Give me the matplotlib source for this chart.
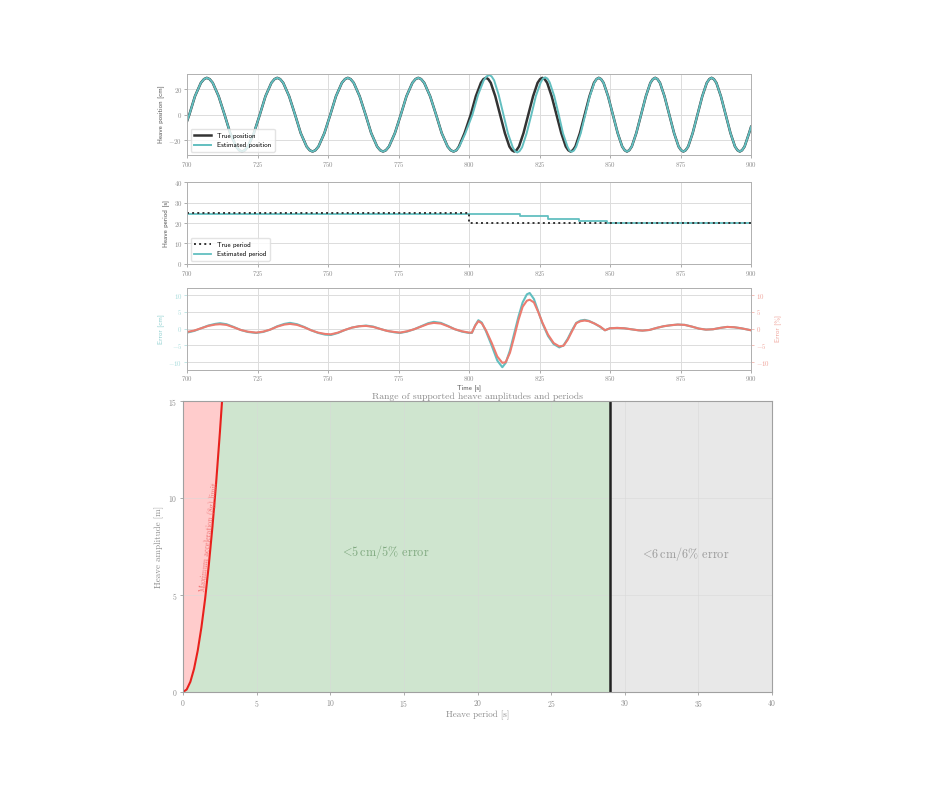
import matplotlib.pyplot as plt

plt.rcParams['font.family'] = ['cmr10', 'DejaVu Serif']
plt.rcParams['mathtext.fontset'] = 'cm'
plt.rcParams['axes.formatter.use_mathtext'] = True

SANS = ['cmss10', 'DejaVu Sans']
CYAN = '#62bfc0'
DARK = '#333333'
SALMON = '#ec7c70'
GREY = '#8c8c8c'

# --- heave position [cm], shared part before the period switch ---
pos_t_before = [700.0, 700.8, 702.8, 704.9, 706.0, 707.0, 708.0, 709.1, 711.2,
                713.3, 715.3, 717.4, 718.5, 719.5, 720.5, 721.6, 723.7,
                725.8, 727.8, 729.9, 731.0, 732.0, 733.0, 734.1, 736.2,
                738.3, 740.3, 742.4, 743.5, 744.5, 745.5, 746.6, 748.7,
                750.8, 752.8, 754.9, 756.0, 757.0, 758.0, 759.1, 761.2,
                763.3, 765.3, 767.4, 768.5, 769.5, 770.5, 771.6, 773.7,
                775.8, 777.8, 779.9, 781.0, 782.0, 783.0, 784.1, 786.2,
                788.3, 790.3, 792.4, 793.5, 794.5]
pos_before = [-5.0, 0, 14.4, 24.9, 27.8, 28.8, 27.8, 24.9, 14.4,
              0, -14.4, -24.9, -27.8, -28.8, -27.8, -24.9, -14.4,
              0, 14.4, 24.9, 27.8, 28.8, 27.8, 24.9, 14.4,
              0, -14.4, -24.9, -27.8, -28.8, -27.8, -24.9, -14.4,
              0, 14.4, 24.9, 27.8, 28.8, 27.8, 24.9, 14.4,
              0, -14.4, -24.9, -27.8, -28.8, -27.8, -24.9, -14.4,
              0, 14.4, 24.9, 27.8, 28.8, 27.8, 24.9, 14.4,
              0, -14.4, -24.9, -27.8, -28.8]

# period switch at 800 s: true vs estimated
true_t_switch = [795.5, 796.4, 798.4, 800.6, 802.4, 804.2, 805.1, 806.0, 806.8, 807.7, 809.3,
                 811.0, 812.7, 814.3, 815.2, 816.0, 816.8, 817.7, 819.3,
                 821.0, 822.7, 824.3, 825.2, 826.0, 826.8, 827.7, 829.3,
                 831.0, 832.7, 834.3, 835.2, 836.0, 836.8, 837.7, 839.3,
                 841.0, 842.7, 844.3, 845.2, 846.0]
true_switch = [-27.8, -24.9, -14.4, 0, 14.4, 24.9, 27.8, 28.8, 27.8, 24.9, 14.4,
               0, -14.4, -24.9, -27.8, -28.8, -27.8, -24.9, -14.4,
               0, 14.4, 24.9, 27.8, 28.8, 27.8, 24.9, 14.4,
               0, -14.4, -24.9, -27.8, -28.8, -27.8, -24.9, -14.4,
               0, 14.4, 24.9, 27.8, 28.8]
est_t_switch = [795.5, 796.5, 798.6, 801.2, 803.2, 805.2, 806.2, 807.2, 808.0, 808.9, 810.5,
                812.2, 813.8, 815.5, 816.3, 817.1, 817.9, 818.8, 820.4,
                822.1, 823.7, 825.4, 826.2, 827.0, 827.8, 828.6, 830.2,
                831.8, 833.3, 834.9, 835.6, 836.4, 837.2, 838.0, 839.6,
                841.2, 842.8, 844.4, 845.2, 846.0]
est_switch = [-27.8, -25.0, -15.0, 0, 15.5, 26.8, 29.9, 31.0, 29.9, 26.8, 15.5,
              0, -14.7, -25.5, -28.5, -29.5, -28.5, -25.5, -14.7,
              0, 14.6, 25.2, 28.2, 29.2, 28.2, 25.2, 14.6,
              0, -14.5, -25.0, -28.0, -29.0, -28.0, -25.0, -14.5,
              0, 14.4, 24.9, 27.8, 28.8]

# shared part after convergence
pos_t_after = [846.8, 847.7, 849.3,
               851.0, 852.7, 854.3, 855.2, 856.0, 856.8, 857.7, 859.3,
               861.0, 862.7, 864.3, 865.2, 866.0, 866.8, 867.7, 869.3,
               871.0, 872.7, 874.3, 875.2, 876.0, 876.8, 877.7, 879.3,
               881.0, 882.7, 884.3, 885.2, 886.0, 886.8, 887.7, 889.3,
               891.0, 892.7, 894.3, 895.2, 896.0, 896.8, 897.7, 899.3, 900.0]
pos_after = [27.8, 24.9, 14.4,
             0, -14.4, -24.9, -27.8, -28.8, -27.8, -24.9, -14.4,
             0, 14.4, 24.9, 27.8, 28.8, 27.8, 24.9, 14.4,
             0, -14.4, -24.9, -27.8, -28.8, -27.8, -24.9, -14.4,
             0, 14.4, 24.9, 27.8, 28.8, 27.8, 24.9, 14.4,
             0, -14.4, -24.9, -27.8, -28.8, -27.8, -24.9, -14.4, -9.5]

# --- heave period [s] ---
true_period_t = [700, 800, 900]
true_period = [25, 20, 20]
est_period_t = [700, 818, 828, 839, 849, 900]
est_period = [24.6, 23.5, 22.0, 20.8, 19.8, 19.8]

# --- error ---
err_t = [700, 702.5, 705, 707.5, 710, 711.7, 714, 716.5, 719, 721.5,
         724.5, 727, 729.5, 732, 734.5, 736.5, 739, 741.5, 744, 746.5,
         749, 751, 753.5, 756, 758.5, 761, 763.5, 766, 768.5, 771,
         773.5, 775.5, 778, 780.5, 783, 785.5, 787.5, 790, 792.5, 795,
         797.5, 800, 801, 802.2, 803.3, 804.5, 806, 808, 810, 811.8,
         813, 814.5, 816, 817.5, 819, 820.5, 821.5, 823, 824.5, 826,
         828, 830, 832, 833.5, 835, 836.5, 838, 839.5, 841, 842.5,
         844.5, 846.5, 848.2, 850, 852.5, 855, 857.5, 860, 861.5, 864,
         866.5, 869, 871.5, 874, 876.5, 879, 881.5, 884, 886.5, 889,
         891.5, 894, 896.5, 900]
err_cm = [-1.2, -0.7, 0.1, 0.9, 1.4, 1.6, 1.3, 0.5, -0.4, -1.0,
          -1.3, -1.0, -0.3, 0.7, 1.4, 1.7, 1.3, 0.5, -0.5, -1.3,
          -1.8, -1.9, -1.3, -0.4, 0.3, 0.7, 0.9, 0.6, -0.1, -0.7,
          -1.1, -1.3, -0.9, -0.2, 0.7, 1.6, 2.0, 1.7, 0.8, -0.2,
          -0.9, -1.3, -1.3, 1.0, 2.5, 1.8, -0.8, -5.0, -9.5, -11.5,
          -10.2, -6.5, -1.5, 3.5, 7.8, 10.2, 10.6, 8.8, 5.2, 1.6,
          -2.2, -4.6, -5.6, -5.0, -3.0, -0.5, 1.7, 2.4, 2.6, 2.3,
          1.5, 0.5, -0.5, 0.1, 0.2, 0.1, -0.2, -0.5, -0.6, -0.4,
          0.2, 0.7, 1.0, 1.2, 1.1, 0.6, 0.0, -0.3, -0.2, 0.2,
          0.5, 0.4, 0.1, -0.5]
err_pct = [-1.0, -0.6, 0.1, 0.8, 1.2, 1.3, 1.1, 0.4, -0.4, -0.9,
           -1.2, -0.9, -0.3, 0.6, 1.2, 1.4, 1.1, 0.4, -0.5, -1.2,
           -1.6, -1.7, -1.2, -0.4, 0.3, 0.7, 0.8, 0.5, -0.1, -0.7,
           -1.0, -1.2, -0.8, -0.2, 0.6, 1.4, 1.7, 1.5, 0.7, -0.2,
           -0.8, -1.2, -1.2, 0.9, 2.2, 1.6, -0.5, -4.2, -8.3, -10.2,
           -10.0, -7.2, -2.5, 2.5, 6.5, 8.3, 8.6, 7.8, 5.0, 1.8,
           -1.8, -4.3, -5.3, -5.1, -3.3, -0.8, 1.6, 2.2, 2.4, 2.2,
           1.5, 0.6, -0.5, 0.1, 0.2, 0.1, -0.2, -0.5, -0.6, -0.4,
           0.2, 0.7, 1.0, 1.2, 1.1, 0.6, 0.0, -0.3, -0.2, 0.2,
           0.5, 0.4, 0.1, -0.5]

# --- supported range ---
accel_T = [0, 0.25, 0.5, 0.75, 1.0, 1.25, 1.5, 1.75, 2.0, 2.25, 2.5, 2.65]
accel_A = [0, 0.13, 0.53, 1.2, 2.14, 3.34, 4.8, 6.54, 8.54, 10.8, 13.35, 15.0]
period_limit = 29
range_labels = [r'$<\!$5$\,$cm/5$\%$ error', r'$<\!$6$\,$cm/6$\%$ error']


def style_top(ax):
    ax.set_xlim(700, 900)
    ax.set_xticks(range(700, 901, 25))
    ax.grid(True, color='#dcdcdc', lw=0.7)
    ax.set_axisbelow(True)
    ax.tick_params(labelsize=5, colors=GREY, length=2, width=0.5, pad=1.5)
    for s in ax.spines.values():
        s.set_color('#b0b0b0')
        s.set_linewidth(0.7)


fig = plt.figure(figsize=(9.4, 7.88), dpi=100)

# position
ax1 = fig.add_axes([0.199, 0.8033, 0.6, 0.1028])
ax1.plot(pos_t_before + true_t_switch + pos_t_after, pos_before + true_switch + pos_after,
         color=DARK, lw=1.8, label='True position')
ax1.plot(pos_t_before + est_t_switch + pos_t_after, pos_before + est_switch + pos_after,
         color=CYAN, lw=1.4, label='Estimated position')
style_top(ax1)
ax1.set_ylim(-31.5, 31.8)
ax1.set_yticks([-20, 0, 20])
ax1.set_ylabel('Heave position [cm]', fontsize=5, family=SANS, color='#555555', labelpad=3)
ax1.legend(loc='lower left', prop={'family': SANS, 'size': 5}, framealpha=0.8,
           edgecolor='#dddddd', handlelength=2.5, borderpad=0.5)

# period
ax2 = fig.add_axes([0.199, 0.665, 0.6, 0.104])
ax2.plot(est_period_t, est_period, color=CYAN, lw=1.3, drawstyle='steps-post',
         label='Estimated period')
ax2.plot(true_period_t, true_period, color=DARK, lw=1.4, ls=':', drawstyle='steps-post',
         label='True period')
style_top(ax2)
ax2.set_ylim(0, 40)
ax2.set_yticks(range(0, 41, 10))
ax2.set_ylabel('Heave period [s]', fontsize=5, family=SANS, color='#555555', labelpad=3)
h, l = ax2.get_legend_handles_labels()
ax2.legend(h[::-1], l[::-1], loc='lower left', prop={'family': SANS, 'size': 5},
           framealpha=0.8, edgecolor='#dddddd', handlelength=2.5, borderpad=0.5)

# error
ax3 = fig.add_axes([0.199, 0.531, 0.6, 0.104])
ax3.plot(err_t, err_cm, color=CYAN, lw=1.5)
style_top(ax3)
ax3.set_ylim(-12.2, 12.2)
ax3.set_yticks([-10, -5, 0, 5, 10])
ax3.tick_params(axis='y', colors='#a8dcdc')
ax3.set_ylabel('Error [cm]', fontsize=5, family=SANS, color='#8fd0d0', labelpad=3)
ax3.set_xlabel('Time [s]', fontsize=5, family=SANS, color='#555555', labelpad=0.5)
ax3b = ax3.twinx()
ax3b.plot(err_t, err_pct, color=SALMON, lw=1.5)
ax3b.set_ylim(-12.2, 12.2)
ax3b.set_yticks([-10, -5, 0, 5, 10])
ax3b.tick_params(labelsize=5, colors='#f0a59c', length=2, width=0.5, pad=1.5)
ax3b.set_ylabel('Error [%]', fontsize=5, family=SANS, color='#f0a59c', labelpad=3)
for s in ax3b.spines.values():
    s.set_color('#b0b0b0')
    s.set_linewidth(0.7)

# supported range
ax4 = fig.add_axes([0.1947, 0.1218, 0.6266, 0.369])
ax4.fill_betweenx(accel_A, 0, accel_T, color='#ffcccc', lw=0)
ax4.fill_betweenx(accel_A, accel_T, period_limit, color='#cfe5cf', lw=0)
ax4.axvspan(period_limit, 40, color='#e8e8e8', lw=0)
ax4.plot(accel_T, accel_A, color='#e8201c', lw=1.5)
ax4.axvline(period_limit, color='#222222', lw=1.8)
ax4.text(13.7, 7.2, range_labels[0], fontsize=8.8, color='#7fa87f', ha='center', va='center')
ax4.text(34.1, 7.1, range_labels[1], fontsize=8.8, color='#9a9a9a', ha='center', va='center')
ax4.text(1.75, 8.0, 'Maximum acceleration (8g) limit', fontsize=5.5, color='#f06a6a',
         rotation=83.5, ha='center', va='center')
ax4.set_xlim(0, 40)
ax4.set_ylim(0, 15)
ax4.set_xticks(range(0, 41, 5))
ax4.set_yticks([0, 5, 10, 15])
ax4.grid(True, color='#d8d8d8', lw=0.6, alpha=0.6)
ax4.tick_params(labelsize=5.5, colors=GREY, length=2, width=0.5, pad=2)
for s in ax4.spines.values():
    s.set_color('#a0a0a0')
    s.set_linewidth(0.8)
ax4.set_xlabel('Heave period [s]', fontsize=6.5, color=GREY, labelpad=1.5)
ax4.set_ylabel('Heave amplitude [m]', fontsize=6.5, color=GREY, labelpad=3)
ax4.set_title('Range of supported heave amplitudes and periods', fontsize=7, color=GREY, pad=0.5)

fig.savefig('out.png', dpi=100)
